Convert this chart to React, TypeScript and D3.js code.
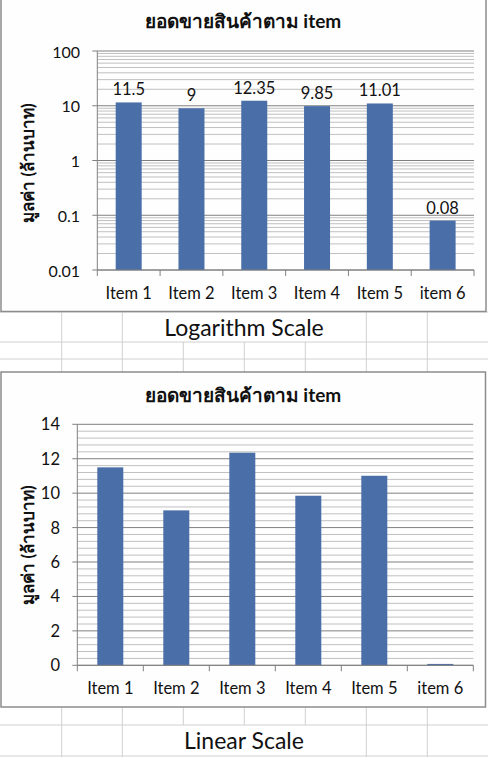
import React from "react";
import * as d3 from "d3";

const categories = ["Item 1", "Item 2", "Item 3", "Item 4", "Item 5", "item 6"];
const sales = [11.5, 9, 12.35, 9.85, 11.01, 0.08];
const salesLabels = ["11.5", "9", "12.35", "9.85", "11.01", "0.08"];
const logTicks = [0.01, 0.1, 1, 10, 100];
const logTickLabels = ["0.01", "0.1", "1", "10", "100"];
const linearTicks = [0, 2, 4, 6, 8, 10, 12, 14];
const chartTitle = "ยอดขายสินค้าตาม item";
const yTitle = "มูลค่า (ล้านบาท)";
const captionLog = "Logarithm Scale";
const captionLinear = "Linear Scale";

const W = 488;
const H = 757;
const FONT = "Lato, 'Open Sans', 'Noto Sans', sans-serif";
const BAR = "#4a6fa8";
const MAJOR = "#808080";
const MINOR = "#c0c0c0";
const SHEET = "#d0d0d0";
const TXT = "#111";

function LogChart() {
  const x = d3.scaleBand<string>().domain(categories).range([97.3, 474]).paddingInner(0.586).paddingOuter(0.293);
  const xc = d3.scaleBand<string>().domain(categories).range([97.3, 474]).padding(0);
  const y = d3.scaleLog().domain([0.01, 100]).range([270, 51]);
  const minor: number[] = [];
  for (let d = 0.01; d < 100; d *= 10) {
    for (let k = 2; k <= 9; k++) minor.push(d * k);
  }
  const [x0, x1] = xc.range();
  return (
    <g>
      <rect x={1} y={-2} width={485} height={313.5} fill="#fefefe" stroke="#8c8c8c" strokeWidth={1.5} />
      <text x={243} y={28} textAnchor="middle" fontFamily={FONT} fontWeight="bold" fontSize={19} fill={TXT}>{chartTitle}</text>
      <text transform="translate(27,163) rotate(-90)" textAnchor="middle" dominantBaseline="central" fontFamily={FONT} fontWeight="bold" fontSize={17} fill={TXT}>{yTitle}</text>
      {minor.map((v, i) => (
        <line key={"m" + i} x1={x0} x2={x1} y1={y(v)} y2={y(v)} stroke={MINOR} strokeWidth={1} />
      ))}
      {logTicks.map((v, i) => (
        <g key={"t" + i}>
          <line x1={x0 - 5} x2={x1} y1={y(v)} y2={y(v)} stroke={MAJOR} strokeWidth={1} />
          <text x={80} y={y(v)} textAnchor="end" dominantBaseline="central" fontFamily={FONT} fontSize={16} fill={TXT}>{logTickLabels[i]}</text>
        </g>
      ))}
      <line x1={x0} x2={x0} y1={y(100)} y2={y(0.01)} stroke={MAJOR} strokeWidth={1} />
      {categories.map((c, i) => (
        <g key={c}>
          <rect x={x(c)} y={y(sales[i])} width={x.bandwidth()} height={y(0.01) - y(sales[i])} fill={BAR} />
          <text x={(x(c) as number) + x.bandwidth() / 2} y={y(sales[i]) - 7} textAnchor="middle" fontFamily={FONT} fontSize={16.5} fill={TXT}>{salesLabels[i]}</text>
          <text x={(xc(c) as number) + xc.bandwidth() / 2} y={299} textAnchor="middle" fontFamily={FONT} fontSize={16.5} fill={TXT}>{c}</text>
        </g>
      ))}
      {[...categories.map((c) => xc(c) as number), x1].map((px, i) => (
        <line key={"xt" + i} x1={px} x2={px} y1={y(0.01)} y2={y(0.01) + 6} stroke={MAJOR} strokeWidth={1} />
      ))}
      <line x1={x0} x2={x1} y1={y(0.01)} y2={y(0.01)} stroke={MAJOR} strokeWidth={1} />
    </g>
  );
}

function LinearChart() {
  const x = d3.scaleBand<string>().domain(categories).range([77.3, 473.3]).paddingInner(0.606).paddingOuter(0.303);
  const xc = d3.scaleBand<string>().domain(categories).range([77.3, 473.3]).padding(0);
  const y = d3.scaleLinear().domain([0, 14]).range([665.3, 424.3]);
  const minor = d3.range(0, 14.001, 0.4).filter((v) => Math.abs(v / 2 - Math.round(v / 2)) > 1e-6);
  const [x0, x1] = xc.range();
  return (
    <g>
      <rect x={1} y={372} width={484.5} height={335} fill="#fefefe" stroke="#8c8c8c" strokeWidth={1.5} />
      <text x={243} y={402} textAnchor="middle" fontFamily={FONT} fontWeight="bold" fontSize={19} fill={TXT}>{chartTitle}</text>
      <text transform="translate(27,545) rotate(-90)" textAnchor="middle" dominantBaseline="central" fontFamily={FONT} fontWeight="bold" fontSize={17} fill={TXT}>{yTitle}</text>
      {minor.map((v, i) => (
        <line key={"m" + i} x1={x0} x2={x1} y1={y(v)} y2={y(v)} stroke={MINOR} strokeWidth={1} />
      ))}
      {linearTicks.map((v) => (
        <g key={"t" + v}>
          <line x1={x0 - 5} x2={x1} y1={y(v)} y2={y(v)} stroke={MAJOR} strokeWidth={1} />
          <text x={60} y={y(v)} textAnchor="end" dominantBaseline="central" fontFamily={FONT} fontSize={16.5} fill={TXT}>{v}</text>
        </g>
      ))}
      <line x1={x0} x2={x0} y1={y(14)} y2={y(0)} stroke={MAJOR} strokeWidth={1} />
      {categories.map((c, i) => (
        <g key={c}>
          <rect x={x(c)} y={y(sales[i])} width={x.bandwidth()} height={y(0) - y(sales[i])} fill={BAR} />
          <text x={(xc(c) as number) + xc.bandwidth() / 2} y={694} textAnchor="middle" fontFamily={FONT} fontSize={16.5} fill={TXT}>{c}</text>
        </g>
      ))}
      {[...categories.map((c) => xc(c) as number), x1].map((px, i) => (
        <line key={"xt" + i} x1={px} x2={px} y1={y(0)} y2={y(0) + 6} stroke={MAJOR} strokeWidth={1} />
      ))}
      <line x1={x0} x2={x1} y1={y(0)} y2={y(0)} stroke={MAJOR} strokeWidth={1} />
    </g>
  );
}

const colLines = [61.7, 122.3, 183.3, 244.3, 305.3, 366.3, 427.3];
const mergedCols = [61.7, 122.3, 366.3, 427.3];

function Sheet() {
  const hLines = [312, 342, 359, 725, 756];
  return (
    <g>
      {hLines.map((yy) => (
        <line key={"h" + yy} x1={0} x2={W} y1={yy} y2={yy} stroke={SHEET} strokeWidth={1} />
      ))}
      {colLines.map((xx) => (
        <g key={"v" + xx}>
          <line x1={xx} x2={xx} y1={342} y2={372} stroke={SHEET} strokeWidth={1} />
          <line x1={xx} x2={xx} y1={707} y2={725} stroke={SHEET} strokeWidth={1} />
        </g>
      ))}
      {mergedCols.map((xx) => (
        <g key={"mv" + xx}>
          <line x1={xx} x2={xx} y1={312} y2={342} stroke={SHEET} strokeWidth={1} />
          <line x1={xx} x2={xx} y1={725} y2={757} stroke={SHEET} strokeWidth={1} />
        </g>
      ))}
      <text x={244} y={336} textAnchor="middle" fontFamily={FONT} fontSize={23} fill={TXT}>{captionLog}</text>
      <text x={244} y={749} textAnchor="middle" fontFamily={FONT} fontSize={23} fill={TXT}>{captionLinear}</text>
    </g>
  );
}

export default function App() {
  return (
    <svg width={W} height={H} viewBox={`0 0 ${W} ${H}`} style={{ position: "absolute", left: 0, top: 0, background: "#fff" }}>
      <rect x={0} y={0} width={W} height={H} fill="#fff" />
      <Sheet />
      <LogChart />
      <LinearChart />
    </svg>
  );
}
